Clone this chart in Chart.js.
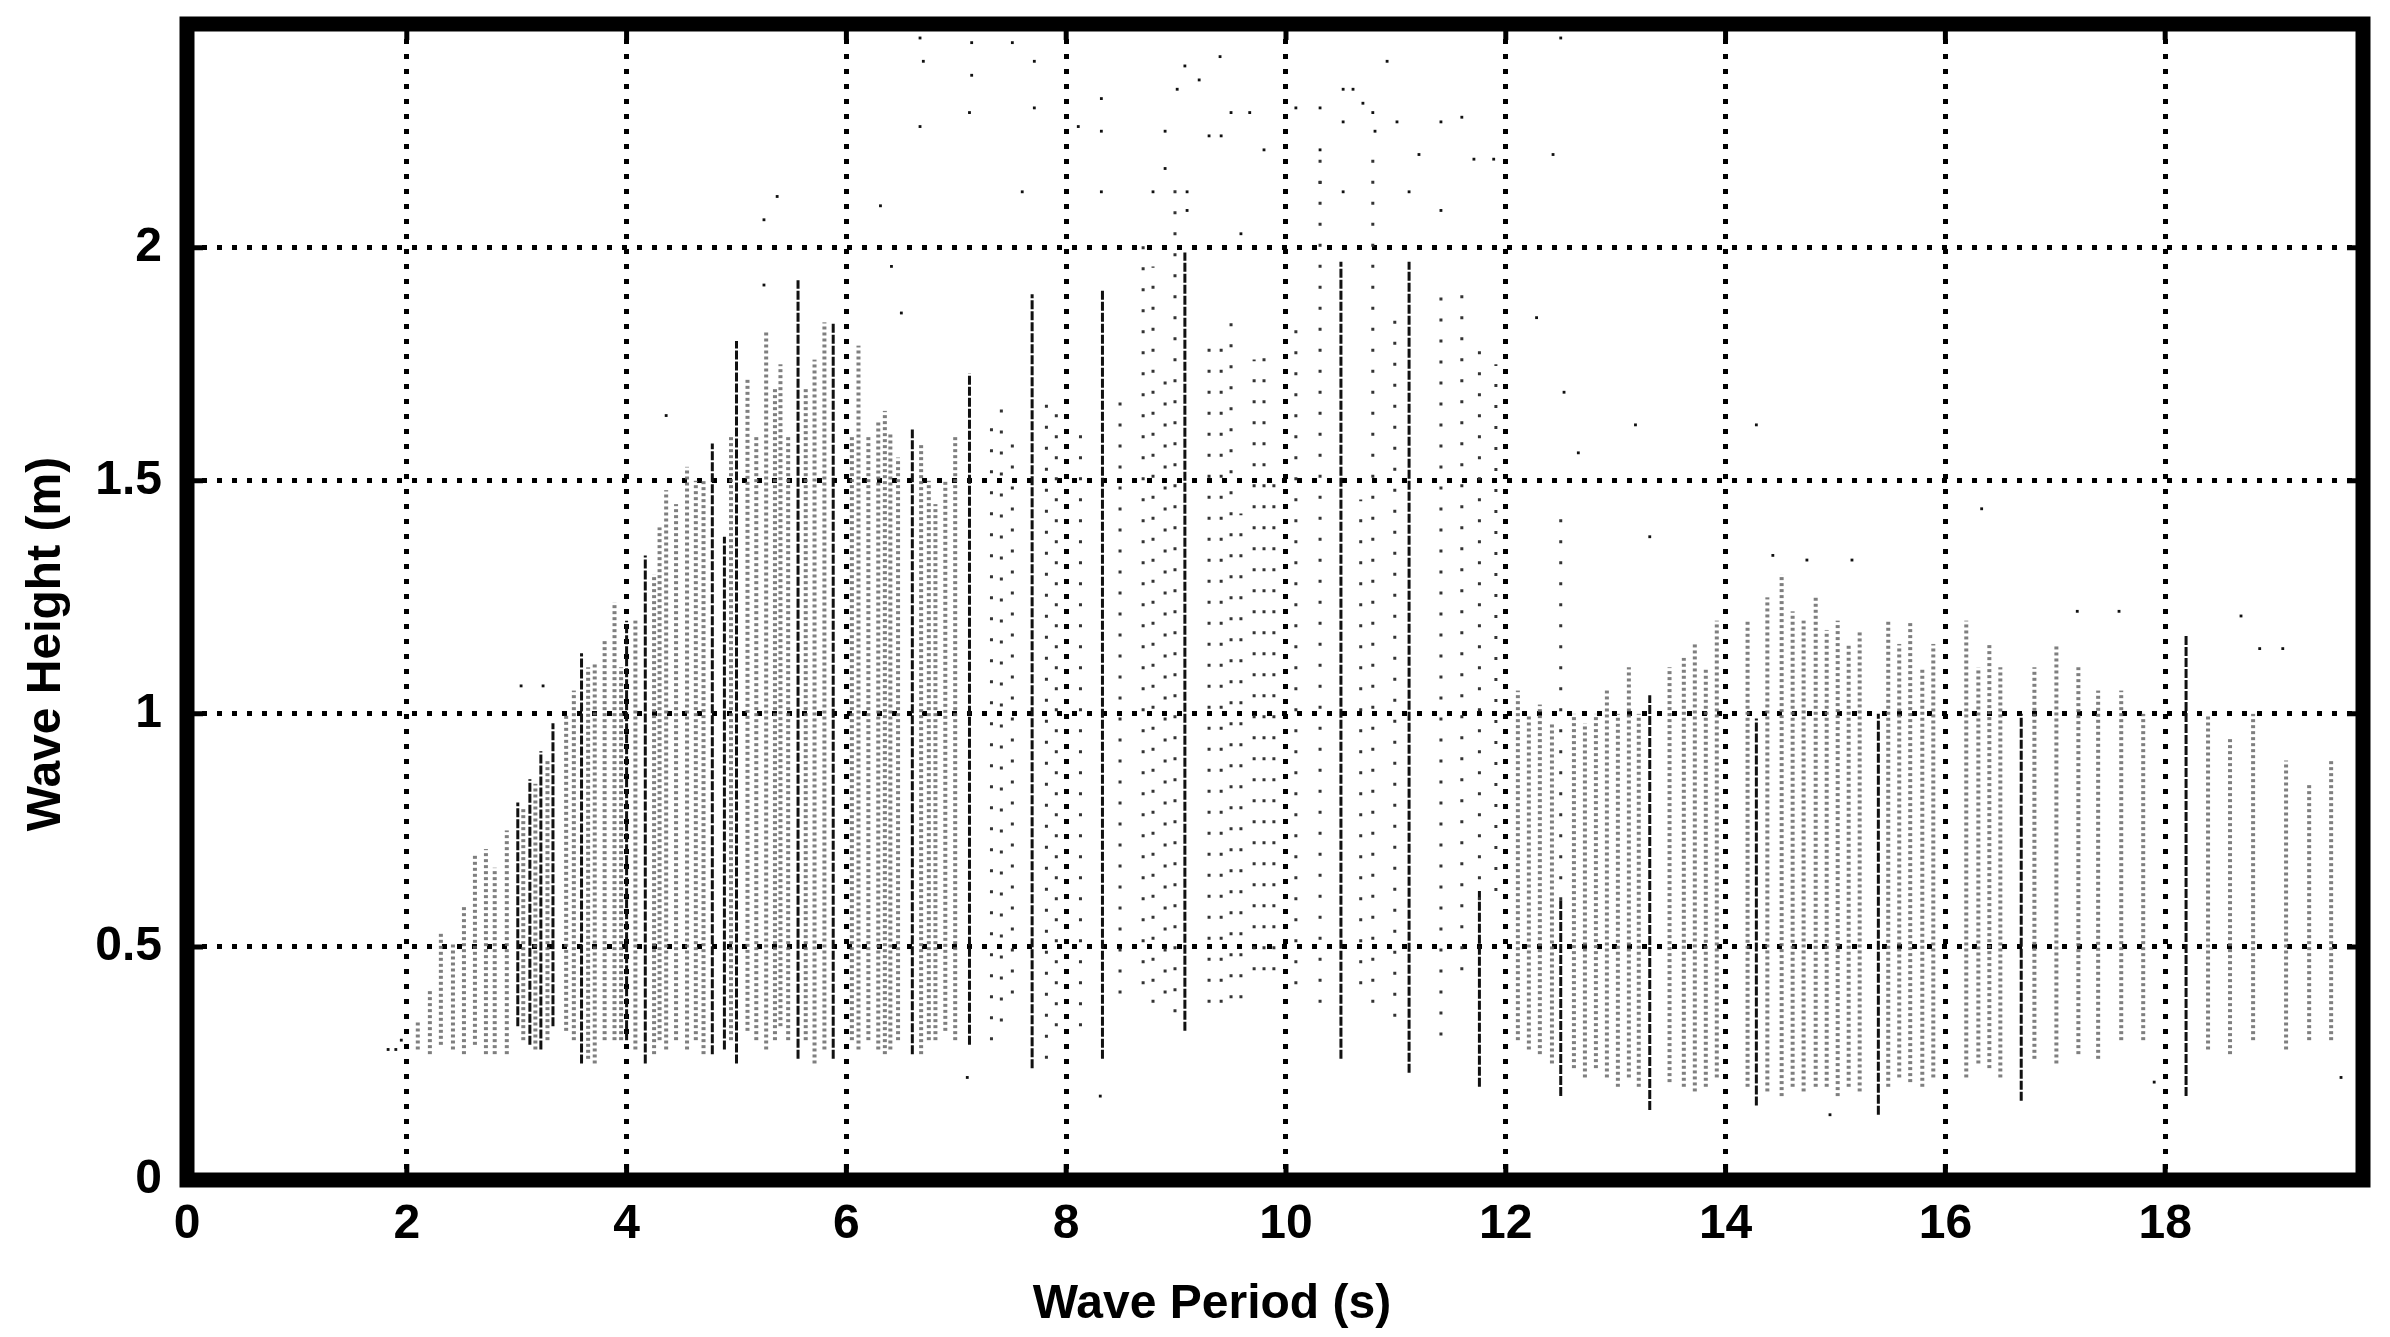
<!DOCTYPE html>
<html lang="en">
<head>
<meta charset="UTF-8">
<title>Wave Height vs Wave Period</title>
<script src="https://cdn.jsdelivr.net/npm/chart.js@4.4.0/dist/chart.umd.min.js"></script>
<style>
  html, body { margin: 0; background: #fff; }
  #wrap { width: 2390px; height: 1337px; }
</style>
</head>
<body>
<div id="wrap"><canvas id="myChart"></canvas></div>
<script>
// tick labels
const xTicks = [0, 2, 4, 6, 8, 10, 12, 14, 16, 18];
const yTicks = [0, 0.5, 1, 1.5, 2];

// periods where the dots pile up into near solid columns (s), with min / max height (m)
const peakT  = [3.01, 3.12, 3.22, 3.33, 3.59, 4.0, 4.17, 4.78, 4.89, 5.0, 5.56, 5.88, 6.6, 7.12, 7.69, 8.33, 9.08, 10.5, 11.12, 11.76, 12.5, 13.31, 14.28, 15.39, 16.69, 18.19];
const peakLo = [0.33, 0.29, 0.28, 0.33, 0.25, 0.3, 0.25, 0.27, 0.28, 0.25, 0.26, 0.26, 0.27, 0.29, 0.24, 0.26, 0.32, 0.26, 0.23, 0.2, 0.18, 0.15, 0.16, 0.14, 0.17, 0.18];
const peakHi = [0.81, 0.86, 0.92, 0.98, 1.13, 1.2, 1.34, 1.58, 1.38, 1.8, 1.93, 1.84, 1.61, 1.73, 1.9, 1.91, 1.99, 1.97, 1.97, 0.62, 0.6, 1.04, 0.99, 1.0, 1.0, 1.17];

// dense grey columns
const greyT = [2.1, 2.21, 2.31, 2.42, 2.52, 2.62, 2.72, 2.8, 2.91, 3.06, 3.17, 3.28, 3.45, 3.52, 3.65, 3.71, 3.8, 3.89, 3.95, 4.08,
               4.25, 4.3, 4.36, 4.45, 4.55, 4.63, 4.7, 4.95, 5.1, 5.18, 5.27, 5.35, 5.4, 5.47, 5.63, 5.71, 5.8, 6.05, 6.11, 6.2,
               6.29, 6.35, 6.4, 6.47, 6.68, 6.75, 6.81, 6.9, 6.99,
               12.11, 12.21, 12.31, 12.42, 12.62, 12.72, 12.82, 12.92, 13.02, 13.12, 13.21, 13.49, 13.62, 13.72, 13.82, 13.92,
               14.2, 14.38, 14.51, 14.61, 14.71, 14.82, 14.92, 15.02, 15.12, 15.22, 15.48, 15.58, 15.68, 15.79, 15.89,
               16.19, 16.3, 16.4, 16.5, 16.81, 17.01, 17.21, 17.39, 17.6, 17.8, 18.39, 18.59, 18.8, 19.1, 19.31, 19.51];
const greyLo = [0.28, 0.27, 0.29, 0.28, 0.27, 0.29, 0.27, 0.27, 0.27, 0.3, 0.28, 0.3, 0.32, 0.3, 0.26, 0.25, 0.3, 0.3, 0.3, 0.28,
                0.27, 0.3, 0.28, 0.3, 0.28, 0.3, 0.27, 0.3, 0.32, 0.3, 0.28, 0.3, 0.33, 0.3, 0.3, 0.25, 0.28, 0.3, 0.28, 0.3,
                0.28, 0.27, 0.28, 0.3, 0.27, 0.3, 0.3, 0.32, 0.3,
                0.3, 0.28, 0.27, 0.25, 0.24, 0.22, 0.24, 0.22, 0.2, 0.22, 0.2, 0.21, 0.2, 0.19, 0.2, 0.22,
                0.2, 0.19, 0.18, 0.2, 0.19, 0.2, 0.2, 0.18, 0.2, 0.19, 0.2, 0.22, 0.21, 0.2, 0.22,
                0.22, 0.25, 0.24, 0.22, 0.26, 0.25, 0.27, 0.26, 0.3, 0.3, 0.28, 0.27, 0.3, 0.28, 0.3, 0.3];
const greyHi = [0.34, 0.41, 0.53, 0.51, 0.59, 0.7, 0.71, 0.67, 0.75, 0.8, 0.85, 0.9, 1.0, 1.05, 1.1, 1.11, 1.16, 1.24, 1.1, 1.2,
                1.3, 1.4, 1.48, 1.45, 1.53, 1.5, 1.5, 1.6, 1.72, 1.6, 1.82, 1.7, 1.75, 1.6, 1.7, 1.76, 1.84, 1.6, 1.79, 1.6,
                1.63, 1.65, 1.6, 1.55, 1.58, 1.5, 1.45, 1.5, 1.6,
                1.05, 1.0, 1.02, 0.98, 1.0, 0.98, 1.0, 1.05, 1.0, 1.1, 1.0, 1.1, 1.12, 1.15, 1.1, 1.2,
                1.2, 1.25, 1.3, 1.22, 1.2, 1.25, 1.18, 1.2, 1.15, 1.18, 1.2, 1.15, 1.2, 1.1, 1.15,
                1.2, 1.1, 1.15, 1.1, 1.1, 1.15, 1.1, 1.05, 1.05, 1.0, 1.0, 0.95, 1.0, 0.9, 0.85, 0.9];

// thinly populated columns in the 7-12 s range
const sparseT  = [7.32, 7.41, 7.51, 7.82, 7.91, 8.13, 8.49, 8.7, 8.79, 8.9, 8.99, 9.3, 9.41, 9.5, 9.59, 9.71, 9.8, 9.89, 10.09, 10.31, 10.68, 10.79, 10.99, 11.41, 11.6, 11.76, 11.91, 12.5];
const sparseLo = [0.3, 0.34, 0.4, 0.26, 0.33, 0.33, 0.4, 0.42, 0.38, 0.4, 0.36, 0.38, 0.38, 0.39, 0.39, 0.45, 0.45, 0.45, 0.42, 0.38, 0.42, 0.38, 0.35, 0.31, 0.45, 0.6, 0.62, 0.6];
const sparseHi = [1.64, 1.67, 1.58, 1.67, 1.67, 1.61, 1.67, 2.02, 1.96, 1.75, 2.13, 1.82, 1.79, 1.85, 1.43, 1.76, 1.8, 1.51, 1.85, 2.19, 1.46, 2.2, 1.88, 1.93, 1.9, 1.8, 1.75, 1.42];

// single scattered observations
const outT = [1.83, 1.9, 1.95, 3.04, 3.24, 4.36, 5.25, 5.37, 5.25, 6.31, 6.41, 6.5, 6.67, 6.7, 6.67, 7.14, 7.14, 7.12, 7.51, 7.71,
              7.71, 7.6, 8.11, 8.32, 8.32, 8.32, 8.9, 8.9, 8.79, 9.01, 9.08, 9.21, 9.1, 9.1, 9.4, 9.3, 9.41, 9.5, 9.67, 9.8,
              9.59, 10.09, 10.31, 10.31, 10.52, 10.61, 10.52, 10.7, 10.79, 10.81, 10.92, 11.01, 10.31, 10.52, 11.12, 11.41, 11.41, 11.6, 11.71, 11.89,
              11.21, 12.5, 12.43, 12.28, 12.53, 12.66, 13.18, 14.28, 16.33, 13.31, 14.43, 14.74, 15.15, 17.2, 17.58, 18.69, 19.07, 18.86, 8.31, 14.95,
              19.6, 17.9, 7.1];
const outH = [0.28, 0.28, 0.3, 1.06, 1.06, 1.64, 2.06, 2.11, 1.92, 2.09, 1.96, 1.86, 2.45, 2.4, 2.26, 2.44, 2.37, 2.29, 2.44, 2.4,
              2.3, 2.12, 2.26, 2.32, 2.25, 2.12, 2.25, 2.17, 2.12, 2.34, 2.39, 2.36, 2.12, 2.08, 2.41, 2.24, 2.24, 2.29, 2.29, 2.21,
              2.03, 2.3, 2.3, 2.21, 2.34, 2.34, 2.27, 2.31, 2.29, 2.25, 2.4, 2.27, 2.14, 2.12, 2.12, 2.27, 2.08, 2.28, 2.19, 2.19,
              2.2, 2.45, 2.2, 1.85, 1.69, 1.56, 1.62, 1.62, 1.44, 1.38, 1.34, 1.33, 1.33, 1.22, 1.22, 1.21, 1.14, 1.14, 0.18, 0.14,
              0.22, 0.21, 0.22];

const FONT = '"Liberation Sans", Arial, sans-serif';

function columns(ts, los, his, color, width, dash) {
    return ts.map((t, i) => ({
        data: [{ x: t, y: los[i] }, { x: t, y: his[i] }],
        showLine: true,
        borderColor: color,
        borderWidth: width,
        borderDash: dash,
        pointRadius: 0
    }));
}

const datasets = [
    ...columns(greyT, greyLo, greyHi, 'rgba(105,105,105,0.85)', 4, [3, 3]),
    ...columns(sparseT, sparseLo, sparseHi, '#333', 3, [3, 18]),
    ...columns(peakT, peakLo, peakHi, '#111', 3, [9, 2]),
    {
        data: outT.map((t, i) => ({ x: t, y: outH[i] })),
        pointStyle: 'rect',
        pointRadius: 2,
        backgroundColor: '#111',
        borderWidth: 0
    }
];

// frame, end tick marks and axis titles
const framePlugin = {
    id: 'frame',
    afterDraw(chart) {
        const { ctx, chartArea: a, scales: { x, y } } = chart;
        ctx.save();
        ctx.strokeStyle = '#000';
        ctx.lineWidth = 5;
        ctx.beginPath();
        xTicks.forEach(v => {
            const px = x.getPixelForValue(v);
            ctx.moveTo(px, a.top); ctx.lineTo(px, a.top + 16);
            ctx.moveTo(px, a.bottom); ctx.lineTo(px, a.bottom - 16);
        });
        yTicks.forEach(v => {
            const py = y.getPixelForValue(v);
            ctx.moveTo(a.left, py); ctx.lineTo(a.left + 16, py);
            ctx.moveTo(a.right, py); ctx.lineTo(a.right - 16, py);
        });
        ctx.stroke();
        ctx.lineWidth = 15;
        ctx.strokeRect(a.left, a.top, a.right - a.left, a.bottom - a.top);

        ctx.fillStyle = '#000';
        ctx.font = 'bold 48px ' + FONT;
        ctx.textAlign = 'center';
        ctx.textBaseline = 'alphabetic';
        ctx.fillText('Wave Period (s)', (a.left + a.right) / 2 - 63, a.bottom + 138);
        ctx.translate(a.left - 127, (a.top + a.bottom) / 2 + 42);
        ctx.rotate(-Math.PI / 2);
        ctx.fillText('Wave Height (m)', 0, 0);
        ctx.restore();
    }
};

const tickFont = { family: FONT, size: 48, weight: 'bold' };

// keep the plot box fixed: no extra room for overhanging tick labels
function noLabelPadding(s) {
    s.paddingTop = 0; s.paddingBottom = 0; s.paddingLeft = 0; s.paddingRight = 0;
}

new Chart(document.getElementById('myChart'), {
    type: 'scatter',
    data: { datasets },
    options: {
        responsive: true,
        maintainAspectRatio: false,
        devicePixelRatio: 1,
        animation: false,
        layout: { padding: { top: 24, right: 27, left: 0, bottom: 0 } },
        plugins: { legend: { display: false }, tooltip: { enabled: false } },
        scales: {
            x: {
                type: 'linear',
                min: 0,
                max: 19.8,
                afterBuildTicks: s => { s.ticks = xTicks.map(v => ({ value: v })); },
                afterFit: s => { s.height = 157; noLabelPadding(s); },
                grid: { color: '#000', lineWidth: 5, drawTicks: false },
                border: { display: false, dash: [5, 10] },
                ticks: { color: '#000', font: tickFont, padding: 16, maxRotation: 0, callback: v => String(v) }
            },
            y: {
                type: 'linear',
                min: 0,
                max: 2.48,
                afterBuildTicks: s => { s.ticks = yTicks.map(v => ({ value: v })); },
                afterFit: s => { s.width = 187; noLabelPadding(s); },
                grid: { color: '#000', lineWidth: 5, drawTicks: false },
                border: { display: false, dash: [5, 10] },
                ticks: { color: '#000', font: tickFont, padding: 25, callback: v => String(v) }
            }
        }
    },
    plugins: [framePlugin]
});
</script>
</body>
</html>
